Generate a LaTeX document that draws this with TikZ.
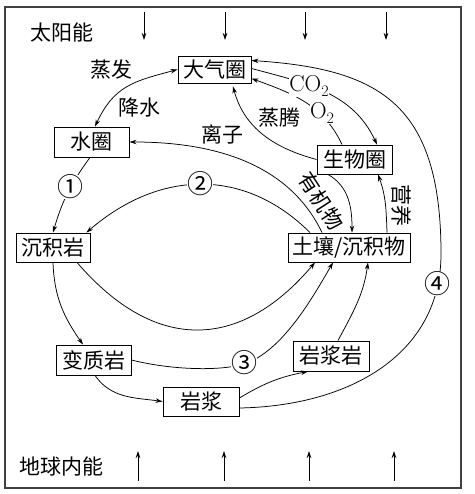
\documentclass[tikz,border=0pt]{standalone}
\usepackage{fontspec}
\newfontfamily\cjk{Noto Sans CJK SC}
\usetikzlibrary{arrows.meta}
\begin{document}
\begin{tikzpicture}[x=1pt,y=1pt,
  box/.style={draw, line width=0.9pt, minimum height=29pt, inner sep=0pt, font=\cjk\fontsize{21}{24}\selectfont},
  lbl/.style={font=\cjk\fontsize{21}{24}\selectfont, inner sep=0pt},
  num/.style={font=\cjk\fontsize{26}{28}\selectfont, fill=white, inner sep=0pt},
  latin/.style={font=\fontsize{23}{26}\selectfont, fill=white, inner sep=0.5pt},
  tip/.tip={Stealth[length=7pt,width=4.5pt]},
  conn/.style={line width=0.75pt, -tip},
  conn2/.style={line width=0.75pt, tip-tip},
  ]
\useasboundingbox (0,0) rectangle (474,494);
\draw[line width=1.2pt, black!75] (5,6) rectangle (461,487);

% boxes
\node[box, minimum width=73pt, minimum height=27pt] (daqi) at (214.5,424.5) {大气圈};
\node[box, minimum width=75pt, minimum height=30pt] (shui) at (91.5,352) {水圈};
\node[box, minimum width=75pt] (shengwu) at (354.5,334.5) {生物圈};
\node[box, minimum width=74pt] (chenji) at (53,246.5) {沉积岩};
\node[box, minimum width=122pt] (turang) at (349,246.5) {土壤/沉积物};
\node[box, minimum width=75pt, minimum height=30pt] (bianzhi) at (93.5,134) {变质岩};
\node[box, minimum width=76pt] (yanjiang) at (201,92.5) {岩浆};
\node[box, minimum width=76pt, minimum height=30pt] (yanjiangyan) at (331,138) {岩浆岩};

% energy labels and arrows
\node[lbl] (sun) at (62,461) {太阳能};
\node[lbl] (earth) at (61,27) {地球内能};
\foreach \x in {144,225,305,386} \draw[conn] (\x,482) -- (\x,454);
\foreach \x in {138,224,309,394} \draw[conn] (\x,13) -- (\x,43);

% connectors
\draw[conn2] ([xshift=3.5pt]shui.north) to[out=65,in=195,looseness=1.15] (daqi.west);
\draw[conn] ([xshift=-27pt]turang.north) .. controls (295,318) and (235,352) .. (shui.east);
\draw[conn] ([xshift=-39pt]turang.north) .. controls (244,327) and (159,324) .. ([xshift=-4pt]chenji.north east);
\draw[conn] ([xshift=-1.5pt]shui.south) to[bend right=10] (chenji.north);
\draw[conn] ([xshift=-26.5pt]shengwu.south) to[out=-30,in=90] ([xshift=3pt]turang.north);
\draw[conn] ([xshift=38pt]turang.north) to[out=92,in=-70] ([xshift=23.5pt]shengwu.south);
\draw[conn] (shengwu.west) to[out=165,in=-75] ([xshift=18.5pt,yshift=-3pt]daqi.south);
\draw[conn] ([xshift=-12.5pt]shengwu.north) to[out=115,in=-20] ([yshift=-9pt]daqi.east);
\draw[conn] ([yshift=1pt]daqi.east) to[out=-15,in=115] ([xshift=22.5pt]shengwu.north);
\coordinate (r4) at (441,240);
\draw[conn] ([yshift=-6.5pt]yanjiang.east) .. controls (350,88) and (441,140) .. (r4)
  .. controls (441,390) and (380,425) .. ([yshift=9pt]daqi.east);
\draw[conn] ([yshift=3.5pt]yanjiang.east) to[bend left=10] ([xshift=-23pt]yanjiangyan.south);
\draw[conn] ([xshift=7pt]yanjiangyan.north) to[out=62,in=-98] ([xshift=19pt]turang.south);
\coordinate (c3) at (244,130);
\draw[conn] (bianzhi.east) .. controls (171,124) and (220,122.7) .. (c3)
  .. controls (282,142) and (313,197) .. ([xshift=-16pt]turang.south);
\draw[conn] ([xshift=24pt]chenji.south) .. controls (154,142) and (239,142) .. ([xshift=-34pt]turang.south);
\draw[conn] (chenji.south) to[out=-88,in=125] ([xshift=-10.5pt]bianzhi.north);
\draw[conn] ([xshift=1.5pt]bianzhi.south) to[out=-55,in=172] (yanjiang.west);

% labels
\node[lbl] (zhengfa) at (111,424) {蒸发};
\node[lbl] (jiangshui) at (139,386) {降水};
\node[lbl] (lizi) at (222,360) {离子};
\node[lbl] (zhengteng) at (279,376) {蒸腾};
\node[lbl, rotate=-57] (youji) at (321,293) {有机物};
\node[lbl, rotate=-90] (yingyang) at (401,288) {营养};
\node[latin] (co2) at (309,408) {CO\raisebox{-4.5pt}{\fontsize{16}{16}\selectfont 2}};
\node[latin] (o2) at (322,381) {O\raisebox{-4.5pt}{\fontsize{16}{16}\selectfont 2}};
\node[num] (n1) at (70,307) {①};
\node[num] (n2) at (200,310) {②};
\node[num] (n3) at (244,131) {③};
\node[num] (n4) at (437,210) {④};
\end{tikzpicture}
\end{document}
